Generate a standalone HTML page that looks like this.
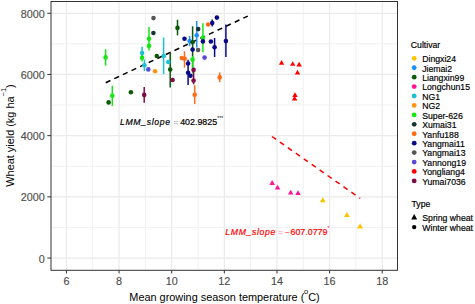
<!DOCTYPE html>
<html><head><meta charset="utf-8"><style>
html,body{margin:0;padding:0;background:#fff;width:475px;height:304px;overflow:hidden}
svg{display:block;font-family:"Liberation Sans",sans-serif}
</style></head><body>
<svg width="475" height="304" viewBox="0 0 475 304">
<rect x="0" y="0" width="475" height="304" fill="#fff"/>
<g stroke="#F1F1F1" stroke-width="1"><line x1="92.75" y1="1.5" x2="92.75" y2="270.3"/><line x1="145.38" y1="1.5" x2="145.38" y2="270.3"/><line x1="198.01" y1="1.5" x2="198.01" y2="270.3"/><line x1="250.64" y1="1.5" x2="250.64" y2="270.3"/><line x1="303.27" y1="1.5" x2="303.27" y2="270.3"/><line x1="355.90" y1="1.5" x2="355.90" y2="270.3"/><line x1="51" y1="227.45" x2="397.5" y2="227.45"/><line x1="51" y1="166.26" x2="397.5" y2="166.26"/><line x1="51" y1="105.07" x2="397.5" y2="105.07"/><line x1="51" y1="43.87" x2="397.5" y2="43.87"/></g>
<g stroke="#EAEAEA" stroke-width="1.2"><line x1="66.44" y1="1.5" x2="66.44" y2="270.3"/><line x1="119.07" y1="1.5" x2="119.07" y2="270.3"/><line x1="171.70" y1="1.5" x2="171.70" y2="270.3"/><line x1="224.33" y1="1.5" x2="224.33" y2="270.3"/><line x1="276.96" y1="1.5" x2="276.96" y2="270.3"/><line x1="329.59" y1="1.5" x2="329.59" y2="270.3"/><line x1="382.22" y1="1.5" x2="382.22" y2="270.3"/><line x1="51" y1="258.05" x2="397.5" y2="258.05"/><line x1="51" y1="196.86" x2="397.5" y2="196.86"/><line x1="51" y1="135.66" x2="397.5" y2="135.66"/><line x1="51" y1="74.47" x2="397.5" y2="74.47"/><line x1="51" y1="13.28" x2="397.5" y2="13.28"/></g>
<line x1="105.7" y1="82.7" x2="247.8" y2="16.1" stroke="#000" stroke-width="1.5" stroke-dasharray="5.2 4.3"/>
<g stroke-width="1.5"><line x1="105.6" y1="49.2" x2="105.6" y2="65.8" stroke="#14E614"/><line x1="112.3" y1="85.7" x2="112.3" y2="105.9" stroke="#14E614"/><line x1="144.2" y1="87" x2="144.2" y2="102.7" stroke="#800A48"/><line x1="149" y1="27.1" x2="149" y2="50.4" stroke="#14E614"/><line x1="142.1" y1="46.8" x2="142.1" y2="57.5" stroke="#1CC0D4"/><line x1="142.1" y1="55" x2="142.1" y2="61.6" stroke="#14E614"/><line x1="144.4" y1="59.6" x2="144.4" y2="71.2" stroke="#1CC0D4"/><line x1="163.6" y1="37.5" x2="163.6" y2="74.2" stroke="#1CC0D4"/><line x1="170.2" y1="53" x2="170.2" y2="87.4" stroke="#0A5A0A"/><line x1="177.5" y1="19.7" x2="177.5" y2="35.4" stroke="#0A5A0A"/><line x1="189.6" y1="36" x2="189.6" y2="46.2" stroke="#1E90FF"/><line x1="192.6" y1="26.3" x2="192.6" y2="69" stroke="#0A5A0A"/><line x1="192.7" y1="56" x2="192.7" y2="73.6" stroke="#14E614"/><line x1="193.6" y1="72" x2="193.6" y2="84.3" stroke="#800A48"/><line x1="196.7" y1="21" x2="196.7" y2="47.6" stroke="#1E90FF"/><line x1="202.9" y1="23.3" x2="202.9" y2="52.2" stroke="#14E614"/><line x1="214.6" y1="38" x2="214.6" y2="57" stroke="#0A0A88"/><line x1="225.9" y1="24.5" x2="225.9" y2="57" stroke="#0A0A88"/><line x1="184.5" y1="51.3" x2="184.5" y2="67.7" stroke="#FF6C16"/><line x1="188.1" y1="59.7" x2="188.1" y2="85.1" stroke="#0A0A88"/><line x1="194.7" y1="85.3" x2="194.7" y2="104" stroke="#FF6C16"/><line x1="219.7" y1="72.4" x2="219.7" y2="82.2" stroke="#FF6C16"/><line x1="212.2" y1="19.6" x2="212.2" y2="26.5" stroke="#0A0A88"/></g>
<g><circle cx="105.6" cy="57.4" r="2.3" fill="#14E614"/><circle cx="112.3" cy="95.7" r="2.3" fill="#14E614"/><circle cx="108.6" cy="102.4" r="2.3" fill="#0A5A0A"/><circle cx="130.9" cy="92.3" r="2.3" fill="#0A5A0A"/><circle cx="144.2" cy="94.9" r="2.3" fill="#800A48"/><circle cx="153.5" cy="18.1" r="2.3" fill="#555555"/><circle cx="153.4" cy="33" r="2.3" fill="#163232"/><circle cx="149" cy="38.7" r="2.3" fill="#14E614"/><circle cx="149" cy="45.9" r="2.3" fill="#14E614"/><circle cx="142.1" cy="53" r="2.3" fill="#1CC0D4"/><circle cx="142.1" cy="57.7" r="2.3" fill="#14E614"/><circle cx="144.4" cy="65.2" r="2.3" fill="#1CC0D4"/><circle cx="148.3" cy="69.4" r="2.3" fill="#5848D8"/><circle cx="155.1" cy="71.2" r="2.3" fill="#FF9414"/><circle cx="156.8" cy="56" r="2.3" fill="#0A5A0A"/><circle cx="163.7" cy="56" r="2.3" fill="#1CC0D4"/><circle cx="168.3" cy="62" r="2.3" fill="#1CC0D4"/><circle cx="170.2" cy="69.5" r="2.3" fill="#0A5A0A"/><circle cx="172.6" cy="80" r="2.3" fill="#800A48"/><circle cx="177.5" cy="27.9" r="2.3" fill="#0A5A0A"/><circle cx="184.5" cy="38.7" r="2.3" fill="#0A0A88"/><circle cx="189.6" cy="41.1" r="2.3" fill="#1E90FF"/><circle cx="192.6" cy="42.3" r="2.3" fill="#0A5A0A"/><circle cx="192.6" cy="49.6" r="2.3" fill="#0A0A88"/><circle cx="192.6" cy="59.6" r="2.3" fill="#14E614"/><circle cx="193.6" cy="69.9" r="2.3" fill="#800A48"/><circle cx="193.6" cy="80.6" r="2.3" fill="#800A48"/><circle cx="196.7" cy="35.3" r="2.3" fill="#1E90FF"/><circle cx="198.2" cy="29.1" r="2.3" fill="#163232"/><circle cx="198.1" cy="50" r="2.3" fill="#555555"/><circle cx="202.9" cy="37.8" r="2.3" fill="#14E614"/><circle cx="202.9" cy="41.4" r="2.3" fill="#0A0A88"/><circle cx="210.9" cy="41.5" r="2.3" fill="#0A0A88"/><circle cx="214.6" cy="47.3" r="2.3" fill="#0A0A88"/><circle cx="225.9" cy="41.1" r="2.3" fill="#0A0A88"/><circle cx="204.6" cy="57.6" r="2.3" fill="#5848D8"/><circle cx="181.8" cy="58" r="2.3" fill="#FF6C16"/><circle cx="184.7" cy="58.8" r="2.3" fill="#FF6C16"/><circle cx="188.1" cy="63.5" r="2.3" fill="#0A0A88"/><circle cx="188.1" cy="72.8" r="2.3" fill="#0A0A88"/><circle cx="190.5" cy="75.7" r="2.3" fill="#0A0A88"/><circle cx="194.7" cy="94.7" r="2.3" fill="#FF6C16"/><circle cx="219.7" cy="77.4" r="2.3" fill="#FF6C16"/><circle cx="216.9" cy="17.6" r="2.3" fill="#0A0A88"/><circle cx="212.2" cy="23.1" r="2.3" fill="#0A0A88"/><circle cx="208.1" cy="24.5" r="2.3" fill="#FF6C16"/></g>
<g><path d="M281.55 60.10L284.21 64.70L278.89 64.70Z" fill="#FF0000"/><path d="M292.70 61.20L295.36 65.80L290.04 65.80Z" fill="#FF0000"/><path d="M299.15 61.70L301.92 66.50L296.38 66.50Z" fill="#FF0000"/><path d="M297.50 69.70L300.21 74.40L294.79 74.40Z" fill="#FF0000"/><path d="M295.00 92.20L297.71 96.90L292.29 96.90Z" fill="#FF0000"/><path d="M294.60 95.80L297.37 100.60L291.83 100.60Z" fill="#FF0000"/><path d="M272.20 180.10L274.97 184.90L269.43 184.90Z" fill="#FF1493"/><path d="M277.60 184.70L280.37 189.50L274.83 189.50Z" fill="#FF1493"/><path d="M290.70 189.70L293.47 194.50L287.93 194.50Z" fill="#FF1493"/><path d="M298.00 190.20L300.77 195.00L295.23 195.00Z" fill="#FF1493"/><path d="M322.80 197.30L325.69 202.30L319.91 202.30Z" fill="#FFC300"/><path d="M346.90 211.90L349.79 216.90L344.01 216.90Z" fill="#FFC300"/><path d="M360.10 223.30L363.10 228.50L357.10 228.50Z" fill="#FFC300"/></g>
<line x1="272" y1="136.5" x2="360.2" y2="198.4" stroke="#FF0000" stroke-width="1.5" stroke-dasharray="5 4.7"/>
<rect x="51" y="1.5" width="346.5" height="268.8" fill="none" stroke="#333" stroke-width="1"/>
<g stroke="#333" stroke-width="1"><line x1="66.44" y1="270.3" x2="66.44" y2="273.5"/><line x1="119.07" y1="270.3" x2="119.07" y2="273.5"/><line x1="171.70" y1="270.3" x2="171.70" y2="273.5"/><line x1="224.33" y1="270.3" x2="224.33" y2="273.5"/><line x1="276.96" y1="270.3" x2="276.96" y2="273.5"/><line x1="329.59" y1="270.3" x2="329.59" y2="273.5"/><line x1="382.22" y1="270.3" x2="382.22" y2="273.5"/><line x1="47.3" y1="258.05" x2="51" y2="258.05"/><line x1="47.3" y1="196.86" x2="51" y2="196.86"/><line x1="47.3" y1="135.66" x2="51" y2="135.66"/><line x1="47.3" y1="74.47" x2="51" y2="74.47"/><line x1="47.3" y1="13.28" x2="51" y2="13.28"/></g>
<g font-size="10.8" fill="#4D4D4D" stroke="#4D4D4D" stroke-width="0.15"><text x="66.44" y="284.5" text-anchor="middle">6</text><text x="119.07" y="284.5" text-anchor="middle">8</text><text x="171.70" y="284.5" text-anchor="middle">10</text><text x="224.33" y="284.5" text-anchor="middle">12</text><text x="276.96" y="284.5" text-anchor="middle">14</text><text x="329.59" y="284.5" text-anchor="middle">16</text><text x="382.22" y="284.5" text-anchor="middle">18</text><text x="44.8" y="262.55" text-anchor="end">0</text><text x="44.8" y="201.36" text-anchor="end">2000</text><text x="44.8" y="140.16" text-anchor="end">4000</text><text x="44.8" y="78.97" text-anchor="end">6000</text><text x="44.8" y="17.78" text-anchor="end">8000</text></g>
<text x="224.5" y="300.5" text-anchor="middle" font-size="10.9" fill="#000">Mean growing season temperature (<tspan font-size="7.5" dy="-6.7" dx="-0.3">o</tspan><tspan dy="6.7">C)</tspan></text>
<text transform="translate(13.7,135.5) rotate(-90)" text-anchor="middle" font-size="10.9" fill="#000">Wheat yield (kg ha<tspan font-size="7.5" dy="-7.5">−1</tspan><tspan dy="7.5">)</tspan></text>
<g font-size="8.7" fill="#000" stroke="#000" stroke-width="0.2"><text x="120" y="124.5" font-style="italic" letter-spacing="0.65">LMM_slope</text><text x="173.6" y="124.5" fill="#999" stroke="none">=</text><text x="180.2" y="124.5" font-size="8.85">402.9825</text><text x="217.3" y="120" font-size="5" stroke="none">***</text></g>
<g font-size="8.7" fill="#FF0000" stroke="#FF0000" stroke-width="0.2"><text x="225.3" y="234.8" font-style="italic" letter-spacing="0.65">LMM_slope</text><text x="278" y="234.8" fill="#FF9090" stroke="none">=</text><text x="284.6" y="234.8" stroke="none" fill="#FF4040">−</text><text x="290.5" y="234.8" font-size="8.85">607.0779</text><text x="327.5" y="229.5" font-size="5" stroke="none">*</text></g>
<g font-size="8.7" fill="#000" stroke="#000" stroke-width="0.18"><text x="410.8" y="47.7">Cultivar</text><circle cx="414.2" cy="58.30" r="2.4" fill="#FFC300" stroke="none"/><text x="422.2" y="62.10">Dingxi24</text><circle cx="414.2" cy="67.73" r="2.4" fill="#1E90FF" stroke="none"/><text x="422.2" y="71.53">Jiemai2</text><circle cx="414.2" cy="77.16" r="2.4" fill="#0A5A0A" stroke="none"/><text x="422.2" y="80.96">Liangxin99</text><circle cx="414.2" cy="86.59" r="2.4" fill="#FF1493" stroke="none"/><text x="422.2" y="90.39">Longchun15</text><circle cx="414.2" cy="96.02" r="2.4" fill="#1CC0D4" stroke="none"/><text x="422.2" y="99.82">NG1</text><circle cx="414.2" cy="105.45" r="2.4" fill="#FF9414" stroke="none"/><text x="422.2" y="109.25">NG2</text><circle cx="414.2" cy="114.88" r="2.4" fill="#14E614" stroke="none"/><text x="422.2" y="118.68">Super-626</text><circle cx="414.2" cy="124.31" r="2.4" fill="#163232" stroke="none"/><text x="422.2" y="128.11">Xumai31</text><circle cx="414.2" cy="133.74" r="2.4" fill="#FF6C16" stroke="none"/><text x="422.2" y="137.54">Yanfu188</text><circle cx="414.2" cy="143.17" r="2.4" fill="#0A0A88" stroke="none"/><text x="422.2" y="146.97">Yangmai11</text><circle cx="414.2" cy="152.60" r="2.4" fill="#555555" stroke="none"/><text x="422.2" y="156.40">Yangmai13</text><circle cx="414.2" cy="162.03" r="2.4" fill="#5848D8" stroke="none"/><text x="422.2" y="165.83">Yannong19</text><circle cx="414.2" cy="171.46" r="2.4" fill="#FF0000" stroke="none"/><text x="422.2" y="175.26">Yongliang4</text><circle cx="414.2" cy="180.89" r="2.4" fill="#800A48" stroke="none"/><text x="422.2" y="184.69">Yumai7036</text><text x="411.5" y="207.4">Type</text><path d="M414.2 214.1L417.2 219.5L411.2 219.5Z" fill="#000" stroke="none"/><circle cx="414.2" cy="227.1" r="2.2" fill="#000" stroke="none"/><text x="422.3" y="221.2">Spring wheat</text><text x="422.3" y="231.1">Winter wheat</text></g>
</svg>
</body></html>
